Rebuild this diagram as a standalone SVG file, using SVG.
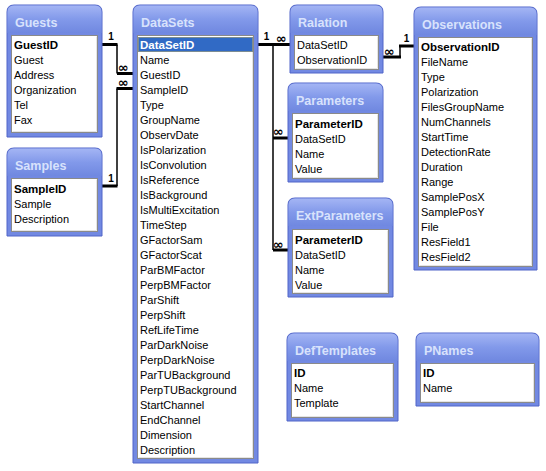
<svg xmlns="http://www.w3.org/2000/svg" width="546" height="471" viewBox="0 0 546 471">
<defs>
<linearGradient id="tg" x1="0" y1="0" x2="0" y2="1">
<stop offset="0" stop-color="#A4B5F4"/>
<stop offset="0.5" stop-color="#8299EA"/>
<stop offset="1" stop-color="#7088E0"/>
</linearGradient>
</defs>
<style>
.frame{fill:#7289E2;stroke:#5064C8;stroke-width:1}
.tb{fill:url(#tg)}
.list{fill:#FFFFFF;stroke:#8A8A8A;stroke-width:1}
.lite{fill:none;stroke:#E4E4E4;stroke-width:1}
.title{font-family:"Liberation Sans",Arial,sans-serif;font-weight:bold;font-size:12.5px;fill:#D8E2FC}
.row{font-family:"Liberation Sans",Arial,sans-serif;font-size:11px;fill:#000}
.pk{font-family:"Liberation Sans",Arial,sans-serif;font-size:11.5px;font-weight:bold;fill:#000}
.thick{fill:none;stroke:#000;stroke-width:3}
.thin{fill:none;stroke:#000;stroke-width:1.5}
.one{font-family:"Liberation Sans",Arial,sans-serif;font-weight:bold;font-size:10px;fill:#000;text-anchor:middle}
.inf{font-family:"DejaVu Sans",sans-serif;font-weight:bold;font-size:12.8px;fill:#000;text-anchor:middle}
</style>

<g id="connectors">
<path class="thin" d="M117,44.5 V73.5"/>
<path class="thick" d="M102,44.5 H117.5 M117,73.5 H133"/>
<path class="thin" d="M117,88.5 V186"/>
<path class="thick" d="M133,88.5 H116.5 M117.5,186 H102"/>
<path class="thin" d="M273,44.5 V250"/>
<path class="thick" d="M258,44.5 H290 M273,138 H288 M273,250 H288"/>
<path class="thin" d="M400,57 V46"/>
<path class="thick" d="M383,57 H401 M399,46 H414"/>
<text class="one" x="111" y="40">1</text>
<text class="inf" x="123" y="71.5">∞</text>
<text class="inf" x="123" y="86.5">∞</text>
<text class="one" x="111" y="182">1</text>
<text class="one" x="266.5" y="40">1</text>
<text class="inf" x="281" y="43">∞</text>
<text class="inf" x="278" y="135.5">∞</text>
<text class="inf" x="278" y="248.5">∞</text>
<text class="inf" x="389" y="56">∞</text>
<text class="one" x="406.5" y="42">1</text>
</g>

<g id="Guests">
<path class="frame" d="M7,137 V12 Q7,5 14,5 H95 Q102,5 102,12 V137 Z"/>
<path class="tb" d="M7.5,33 V12 Q7.5,5.5 14,5.5 H95 Q101.5,5.5 101.5,12 V33 Z"/>
<text class="title" x="15" y="27">Guests</text>
<rect class="list" x="11.5" y="35.5" width="86" height="97"/>
<path class="lite" d="M12.5,131.5 H96.5 V36.5"/>
<text class="pk" x="14" y="49">GuestID</text>
<text class="row" x="14" y="64">Guest</text>
<text class="row" x="14" y="79">Address</text>
<text class="row" x="14" y="94">Organization</text>
<text class="row" x="14" y="109">Tel</text>
<text class="row" x="14" y="124">Fax</text>
</g>

<g id="Samples">
<path class="frame" d="M7,236 V155 Q7,148 14,148 H95 Q102,148 102,155 V236 Z"/>
<path class="tb" d="M7.5,176 V155 Q7.5,148.5 14,148.5 H95 Q101.5,148.5 101.5,155 V176 Z"/>
<text class="title" x="15" y="170">Samples</text>
<rect class="list" x="11.5" y="178.5" width="86" height="53"/>
<path class="lite" d="M12.5,230.5 H96.5 V179.5"/>
<text class="pk" x="14" y="192.5">SampleID</text>
<text class="row" x="14" y="207.5">Sample</text>
<text class="row" x="14" y="222.5">Description</text>
</g>

<g id="DataSets">
<path class="frame" d="M133,463 V12 Q133,5 140,5 H251 Q258,5 258,12 V463 Z"/>
<path class="tb" d="M133.5,33 V12 Q133.5,5.5 140,5.5 H251 Q257.5,5.5 257.5,12 V33 Z"/>
<text class="title" x="141" y="27">DataSets</text>
<rect class="list" x="137.5" y="35.5" width="116" height="423"/>
<path class="lite" d="M138.5,457.5 H252.5 V36.5"/>
<rect x="138" y="37" width="115" height="15" fill="#316AC5"/>
<rect x="138.5" y="37.5" width="114" height="14" fill="none" stroke="#C8B060" stroke-width="1" stroke-dasharray="1,1"/>
<text class="pk" x="140" y="49" style="fill:#FFFFFF">DataSetID</text>
<text class="row" x="140" y="64">Name</text>
<text class="row" x="140" y="79">GuestID</text>
<text class="row" x="140" y="94">SampleID</text>
<text class="row" x="140" y="109">Type</text>
<text class="row" x="140" y="124">GroupName</text>
<text class="row" x="140" y="139">ObservDate</text>
<text class="row" x="140" y="154">IsPolarization</text>
<text class="row" x="140" y="169">IsConvolution</text>
<text class="row" x="140" y="184">IsReference</text>
<text class="row" x="140" y="199">IsBackground</text>
<text class="row" x="140" y="214">IsMultiExcitation</text>
<text class="row" x="140" y="229">TimeStep</text>
<text class="row" x="140" y="244">GFactorSam</text>
<text class="row" x="140" y="259">GFactorScat</text>
<text class="row" x="140" y="274">ParBMFactor</text>
<text class="row" x="140" y="289">PerpBMFactor</text>
<text class="row" x="140" y="304">ParShift</text>
<text class="row" x="140" y="319">PerpShift</text>
<text class="row" x="140" y="334">RefLifeTime</text>
<text class="row" x="140" y="349">ParDarkNoise</text>
<text class="row" x="140" y="364">PerpDarkNoise</text>
<text class="row" x="140" y="379">ParTUBackground</text>
<text class="row" x="140" y="394">PerpTUBackground</text>
<text class="row" x="140" y="409">StartChannel</text>
<text class="row" x="140" y="424">EndChannel</text>
<text class="row" x="140" y="439">Dimension</text>
<text class="row" x="140" y="454">Description</text>
</g>

<g id="Ralation">
<path class="frame" d="M290,73 V12 Q290,5 297,5 H376 Q383,5 383,12 V73 Z"/>
<path class="tb" d="M290.5,33 V12 Q290.5,5.5 297,5.5 H376 Q382.5,5.5 382.5,12 V33 Z"/>
<text class="title" x="298" y="27">Ralation</text>
<rect class="list" x="294.5" y="35.5" width="84" height="34"/>
<path class="lite" d="M295.5,68.5 H377.5 V36.5"/>
<text class="row" x="297" y="49">DataSetID</text>
<text class="row" x="297" y="64">ObservationID</text>
</g>

<g id="Parameters">
<path class="frame" d="M288,182 V90 Q288,83 295,83 H376 Q383,83 383,90 V182 Z"/>
<path class="tb" d="M288.5,111 V90 Q288.5,83.5 295,83.5 H376 Q382.5,83.5 382.5,90 V111 Z"/>
<text class="title" x="296" y="105">Parameters</text>
<rect class="list" x="292.5" y="113.5" width="86" height="65"/>
<path class="lite" d="M293.5,177.5 H377.5 V114.5"/>
<text class="pk" x="295" y="128">ParameterID</text>
<text class="row" x="295" y="143">DataSetID</text>
<text class="row" x="295" y="158">Name</text>
<text class="row" x="295" y="173">Value</text>
</g>

<g id="ExtParameters">
<path class="frame" d="M288,297 V205 Q288,198 295,198 H386 Q393,198 393,205 V297 Z"/>
<path class="tb" d="M288.5,226 V205 Q288.5,198.5 295,198.5 H386 Q392.5,198.5 392.5,205 V226 Z"/>
<text class="title" x="296" y="220">ExtParameters</text>
<rect class="list" x="292.5" y="229.5" width="96" height="64"/>
<path class="lite" d="M293.5,292.5 H387.5 V230.5"/>
<text class="pk" x="295" y="244">ParameterID</text>
<text class="row" x="295" y="259">DataSetID</text>
<text class="row" x="295" y="274">Name</text>
<text class="row" x="295" y="289">Value</text>
</g>

<g id="Observations">
<path class="frame" d="M414,270 V14 Q414,7 421,7 H530 Q537,7 537,14 V270 Z"/>
<path class="tb" d="M414.5,35 V14 Q414.5,7.5 421,7.5 H530 Q536.5,7.5 536.5,14 V35 Z"/>
<text class="title" x="422" y="29">Observations</text>
<rect class="list" x="418.5" y="37.5" width="114" height="229"/>
<path class="lite" d="M419.5,265.5 H531.5 V38.5"/>
<text class="pk" x="421" y="51">ObservationID</text>
<text class="row" x="421" y="66">FileName</text>
<text class="row" x="421" y="81">Type</text>
<text class="row" x="421" y="96">Polarization</text>
<text class="row" x="421" y="111">FilesGroupName</text>
<text class="row" x="421" y="126">NumChannels</text>
<text class="row" x="421" y="141">StartTime</text>
<text class="row" x="421" y="156">DetectionRate</text>
<text class="row" x="421" y="171">Duration</text>
<text class="row" x="421" y="186">Range</text>
<text class="row" x="421" y="201">SamplePosX</text>
<text class="row" x="421" y="216">SamplePosY</text>
<text class="row" x="421" y="231">File</text>
<text class="row" x="421" y="246">ResField1</text>
<text class="row" x="421" y="261">ResField2</text>
</g>

<g id="DefTemplates">
<path class="frame" d="M287,421 V340 Q287,333 294,333 H391 Q398,333 398,340 V421 Z"/>
<path class="tb" d="M287.5,361 V340 Q287.5,333.5 294,333.5 H391 Q397.5,333.5 397.5,340 V361 Z"/>
<text class="title" x="295" y="355">DefTemplates</text>
<rect class="list" x="291.5" y="363.5" width="102" height="54"/>
<path class="lite" d="M292.5,416.5 H392.5 V364.5"/>
<text class="pk" x="294" y="377">ID</text>
<text class="row" x="294" y="392">Name</text>
<text class="row" x="294" y="407">Template</text>
</g>

<g id="PNames">
<path class="frame" d="M416,406 V340 Q416,333 423,333 H532 Q539,333 539,340 V406 Z"/>
<path class="tb" d="M416.5,361 V340 Q416.5,333.5 423,333.5 H532 Q538.5,333.5 538.5,340 V361 Z"/>
<text class="title" x="424" y="355">PNames</text>
<rect class="list" x="420.5" y="363.5" width="114" height="39"/>
<path class="lite" d="M421.5,401.5 H533.5 V364.5"/>
<text class="pk" x="423" y="377">ID</text>
<text class="row" x="423" y="392">Name</text>
</g>
</svg>
